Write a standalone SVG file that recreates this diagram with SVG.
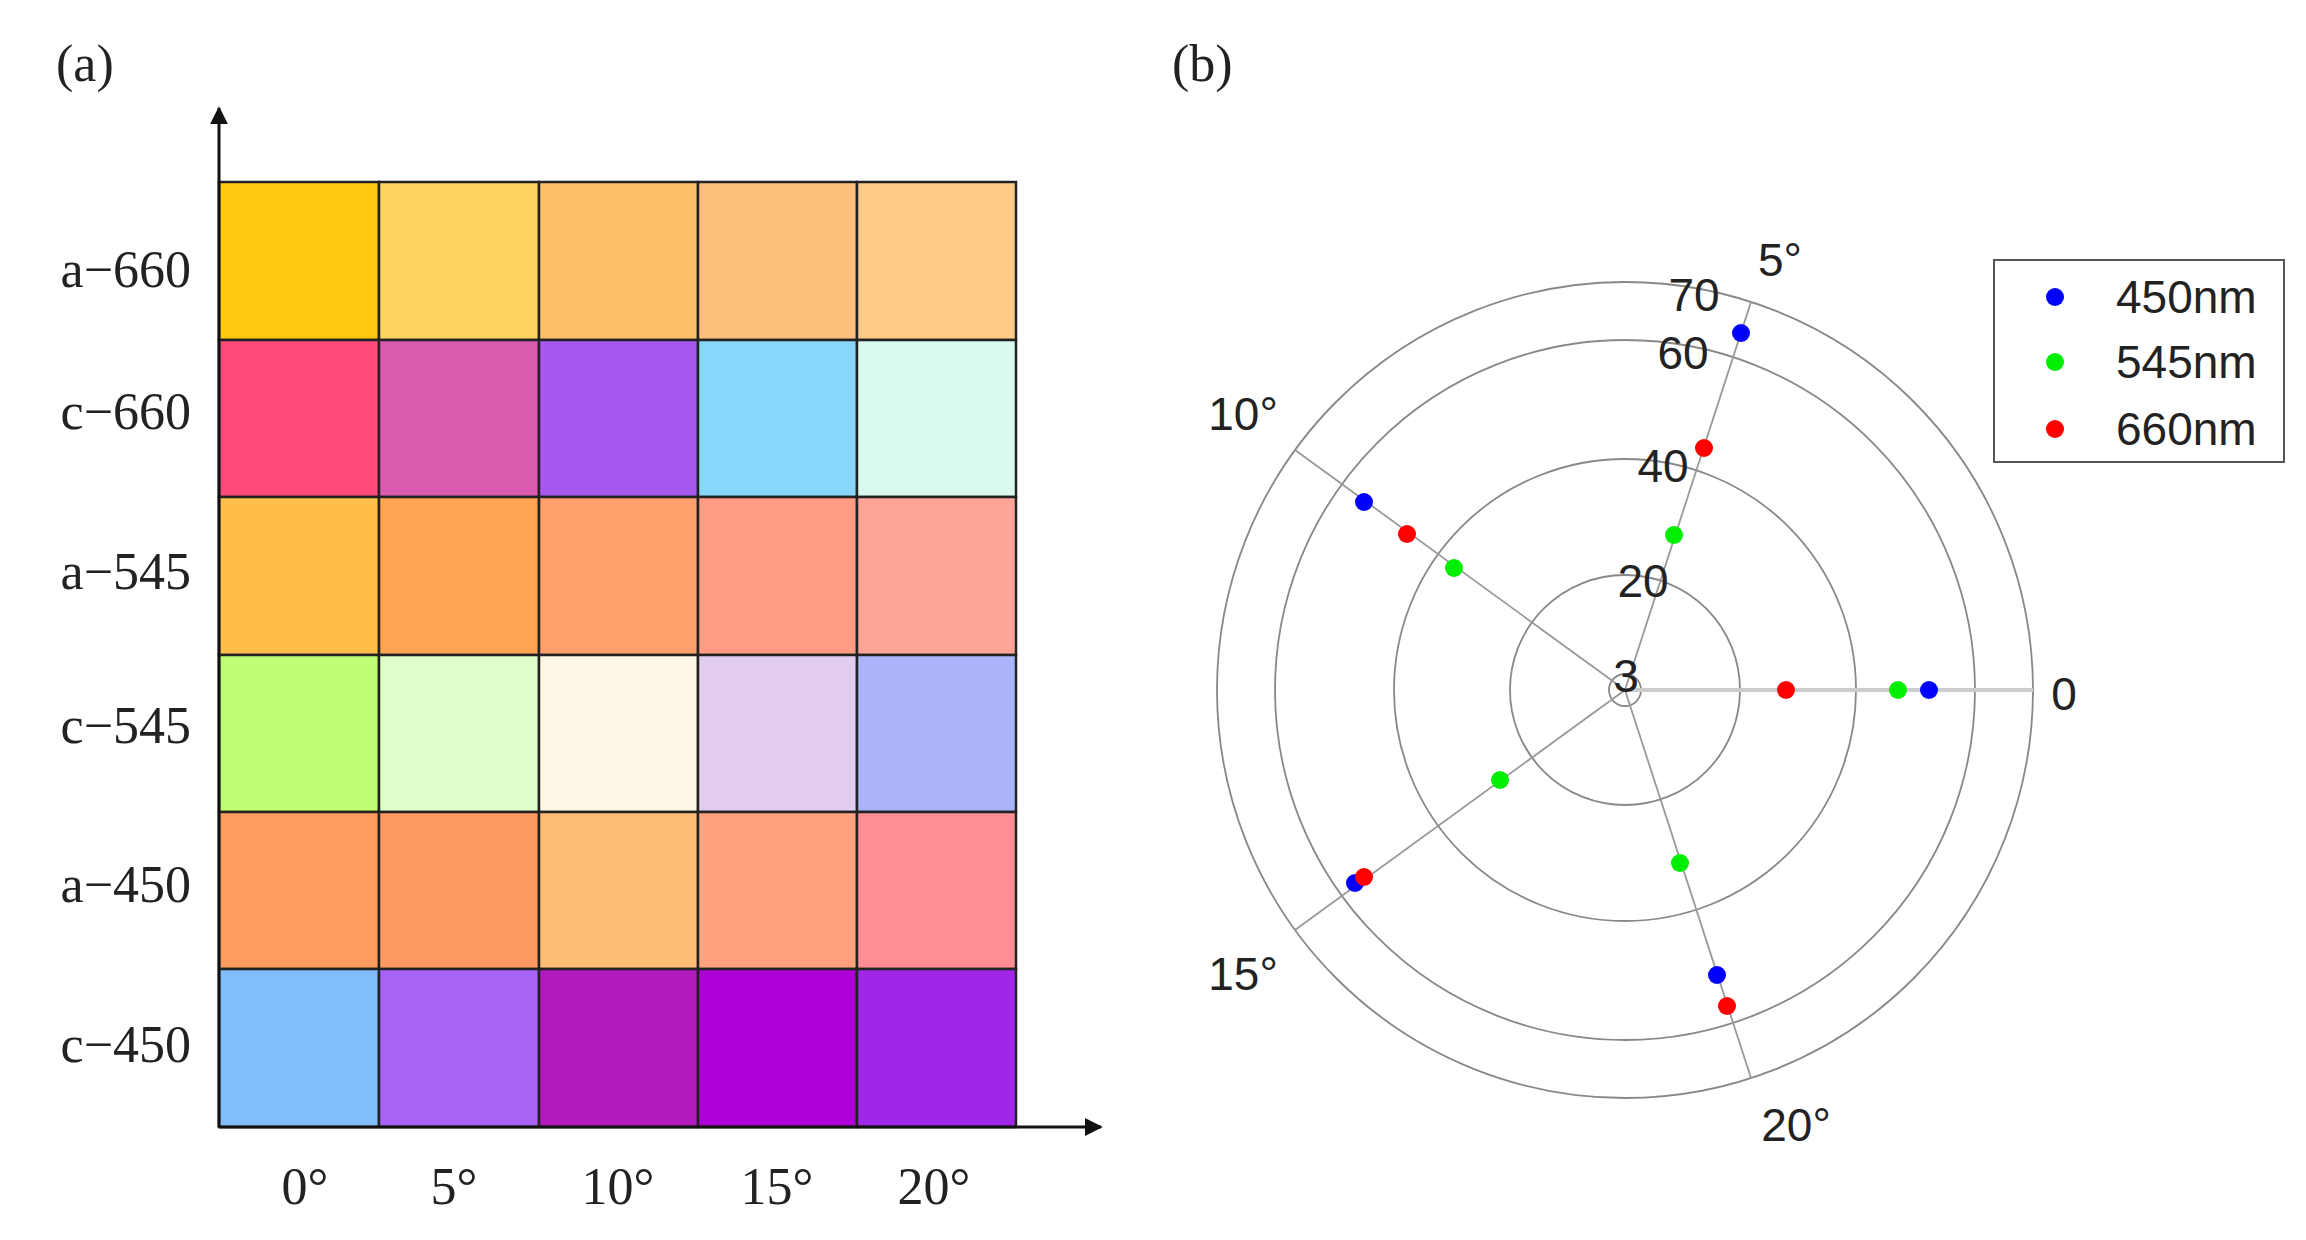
<svg xmlns="http://www.w3.org/2000/svg" width="2306" height="1240" viewBox="0 0 2306 1240">
<style>
.c{stroke:#222;stroke-width:2.5}
.s{font-family:"Liberation Serif",serif;font-size:52px;fill:#222}
.ss{font-family:"Liberation Sans",Arial,sans-serif;font-size:46px;fill:#222}
.ring{fill:none;stroke:#888;stroke-width:1.8}
.sp{stroke:#999;stroke-width:1.8}
</style>
<defs><marker id="ar" viewBox="0 0 10 10" refX="9" refY="5" markerWidth="6" markerHeight="6" orient="auto"><path d="M0,0L10,5L0,10z" fill="#111"/></marker></defs>
<rect width="2306" height="1240" fill="#fff"/>
<text class="s" x="56" y="81" font-size="64">(a)</text>
<g id="grid">
<rect class="c" x="219" y="182" width="160" height="158" fill="#FFC914"/><rect class="c" x="379" y="182" width="160" height="158" fill="#FFD35E"/><rect class="c" x="539" y="182" width="159" height="158" fill="#FFC06B"/><rect class="c" x="698" y="182" width="159" height="158" fill="#FFC07E"/><rect class="c" x="857" y="182" width="159" height="158" fill="#FFCA88"/>
<rect class="c" x="219" y="340" width="160" height="157" fill="#FF4A7A"/><rect class="c" x="379" y="340" width="160" height="157" fill="#DA5AAF"/><rect class="c" x="539" y="340" width="159" height="157" fill="#A759EF"/><rect class="c" x="698" y="340" width="159" height="157" fill="#87D7FA"/><rect class="c" x="857" y="340" width="159" height="157" fill="#D9F9EC"/>
<rect class="c" x="219" y="497" width="160" height="158" fill="#FFBF4A"/><rect class="c" x="379" y="497" width="160" height="158" fill="#FFA553"/><rect class="c" x="539" y="497" width="159" height="158" fill="#FFA06D"/><rect class="c" x="698" y="497" width="159" height="158" fill="#FF9C83"/><rect class="c" x="857" y="497" width="159" height="158" fill="#FFA598"/>
<rect class="c" x="219" y="655" width="160" height="157" fill="#C0FF73"/><rect class="c" x="379" y="655" width="160" height="157" fill="#DEFFC9"/><rect class="c" x="539" y="655" width="159" height="157" fill="#FFF7E6"/><rect class="c" x="698" y="655" width="159" height="157" fill="#E2CCF0"/><rect class="c" x="857" y="655" width="159" height="157" fill="#ABB3F9"/>
<rect class="c" x="219" y="812" width="160" height="157" fill="#FF9B5F"/><rect class="c" x="379" y="812" width="160" height="157" fill="#FF9962"/><rect class="c" x="539" y="812" width="159" height="157" fill="#FFBC73"/><rect class="c" x="698" y="812" width="159" height="157" fill="#FFA27D"/><rect class="c" x="857" y="812" width="159" height="157" fill="#FF8E94"/>
<rect class="c" x="219" y="969" width="160" height="158" fill="#82BDFB"/><rect class="c" x="379" y="969" width="160" height="158" fill="#A863F5"/><rect class="c" x="539" y="969" width="159" height="158" fill="#B21ABE"/><rect class="c" x="698" y="969" width="159" height="158" fill="#AE00D6"/><rect class="c" x="857" y="969" width="159" height="158" fill="#A026E8"/>
</g>
<g id="axes" stroke="#111" stroke-width="3">
<line x1="219" y1="1127" x2="219" y2="108" marker-end="url(#ar)"/>
<line x1="219" y1="1127" x2="1101" y2="1127" marker-end="url(#ar)"/>
</g>
<g class="s" text-anchor="end">
<text x="191" y="287">a−660</text><text x="191" y="429">c−660</text><text x="191" y="589">a−545</text><text x="191" y="743">c−545</text><text x="191" y="902">a−450</text><text x="191" y="1062">c−450</text>
</g>
<g class="s" text-anchor="middle" font-size="50">
<text x="305" y="1204">0°</text><text x="454" y="1204">5°</text><text x="618" y="1204">10°</text><text x="777" y="1204">15°</text><text x="934" y="1204">20°</text>
</g>
<text class="s" x="1172" y="81" font-size="64">(b)</text>
<g id="polar">
<circle class="ring" cx="1625" cy="690" r="408"/><circle class="ring" cx="1625" cy="690" r="350"/><circle class="ring" cx="1625" cy="690" r="231"/><circle class="ring" cx="1625" cy="690" r="115"/><circle class="ring" cx="1625" cy="690" r="16"/>
<line x1="1625" y1="690" x2="2033" y2="690" stroke="#ccc" stroke-width="4"/>
<line class="sp" x1="1625" y1="690" x2="1751" y2="302"/>
<line class="sp" x1="1625" y1="690" x2="1295" y2="450"/>
<line class="sp" x1="1625" y1="690" x2="1295" y2="930"/>
<line class="sp" x1="1625" y1="690" x2="1751" y2="1078"/>
</g>
<g id="points">
<circle cx="1786" cy="690" r="9" fill="#f00"/><circle cx="1898" cy="690" r="9" fill="#0e0"/><circle cx="1929" cy="690" r="9" fill="#00f"/>
<circle cx="1741" cy="333" r="9" fill="#00f"/><circle cx="1704" cy="448" r="9" fill="#f00"/><circle cx="1674" cy="535" r="9" fill="#0e0"/>
<circle cx="1364" cy="502" r="9" fill="#00f"/><circle cx="1407" cy="534" r="9" fill="#f00"/><circle cx="1454" cy="568" r="9" fill="#0e0"/>
<circle cx="1355" cy="883" r="9" fill="#00f"/><circle cx="1364" cy="877" r="9" fill="#f00"/><circle cx="1500" cy="780" r="9" fill="#0e0"/>
<circle cx="1717" cy="975" r="9" fill="#00f"/><circle cx="1727" cy="1006" r="9" fill="#f00"/><circle cx="1680" cy="863" r="9" fill="#0e0"/>
</g>
<g class="ss" text-anchor="middle">
<text x="1694" y="311">70</text><text x="1683" y="369">60</text><text x="1663" y="482">40</text><text x="1643" y="597">20</text><text x="1626" y="692">3</text>
<text x="2064" y="710">0</text><text x="1780" y="276">5°</text><text x="1243" y="430">10°</text><text x="1243" y="990">15°</text><text x="1796" y="1141">20°</text>
</g>
<g id="legend">
<rect x="1994" y="260" width="290" height="202" fill="#fff" stroke="#555" stroke-width="2"/>
<circle cx="2055" cy="297" r="9" fill="#00f"/><circle cx="2055" cy="362" r="9" fill="#0e0"/><circle cx="2055" cy="429" r="9" fill="#f00"/>
<text class="ss" x="2116" y="313">450nm</text><text class="ss" x="2116" y="378">545nm</text><text class="ss" x="2116" y="445">660nm</text>
</g>
</svg>
